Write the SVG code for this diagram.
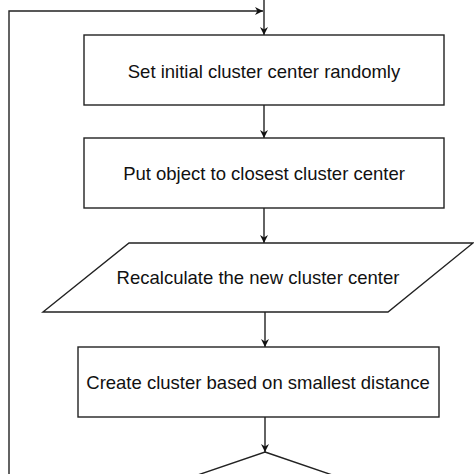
<svg xmlns="http://www.w3.org/2000/svg" width="474" height="474" viewBox="0 0 474 474">
<style>
.n{fill:#fff;stroke:#222;stroke-width:1.4}
.t{font-family:"Liberation Sans",Arial,sans-serif;font-size:18.5px;fill:#111;text-anchor:middle}
.c{fill:none;stroke:#222;stroke-width:1.4}
</style>
<defs>
<marker id="a" viewBox="0 0 10 10" refX="10" refY="5" markerWidth="8" markerHeight="8" markerUnits="userSpaceOnUse" orient="auto">
<path d="M0,0 L10,5 L0,10 L3,5 Z" fill="#111"/>
</marker>
</defs>
<rect width="474" height="474" fill="#fff"/>
<g id="connectors">
<path class="c" d="M264,0 V35" marker-end="url(#a)"/>
<path class="c" d="M9,474 V11 H263" marker-end="url(#a)"/>
<path class="c" d="M264,105 V138" marker-end="url(#a)"/>
<path class="c" d="M264,208 V243" marker-end="url(#a)"/>
<path class="c" d="M265,312 V347" marker-end="url(#a)"/>
<path class="c" d="M265,417 V452" marker-end="url(#a)"/>
</g>
<g id="n1">
<rect class="n" x="84" y="35" width="360" height="70"/>
<text class="t" x="264" y="78">Set initial cluster center randomly</text>
</g>
<g id="n2">
<rect class="n" x="84" y="138" width="360" height="70"/>
<text class="t" x="264" y="179.5">Put object to closest cluster center</text>
</g>
<g id="n3">
<polygon class="n" points="129,243 473,243 388,312 43,312"/>
<text class="t" x="258" y="284">Recalculate the new cluster center</text>
</g>
<g id="n4">
<rect class="n" x="78" y="347" width="361" height="70"/>
<text class="t" x="258" y="389">Create cluster based on smallest distance</text>
</g>
<g id="n5">
<polygon class="n" points="265,452 385,493 265,534 145,493"/>
</g>
</svg>
